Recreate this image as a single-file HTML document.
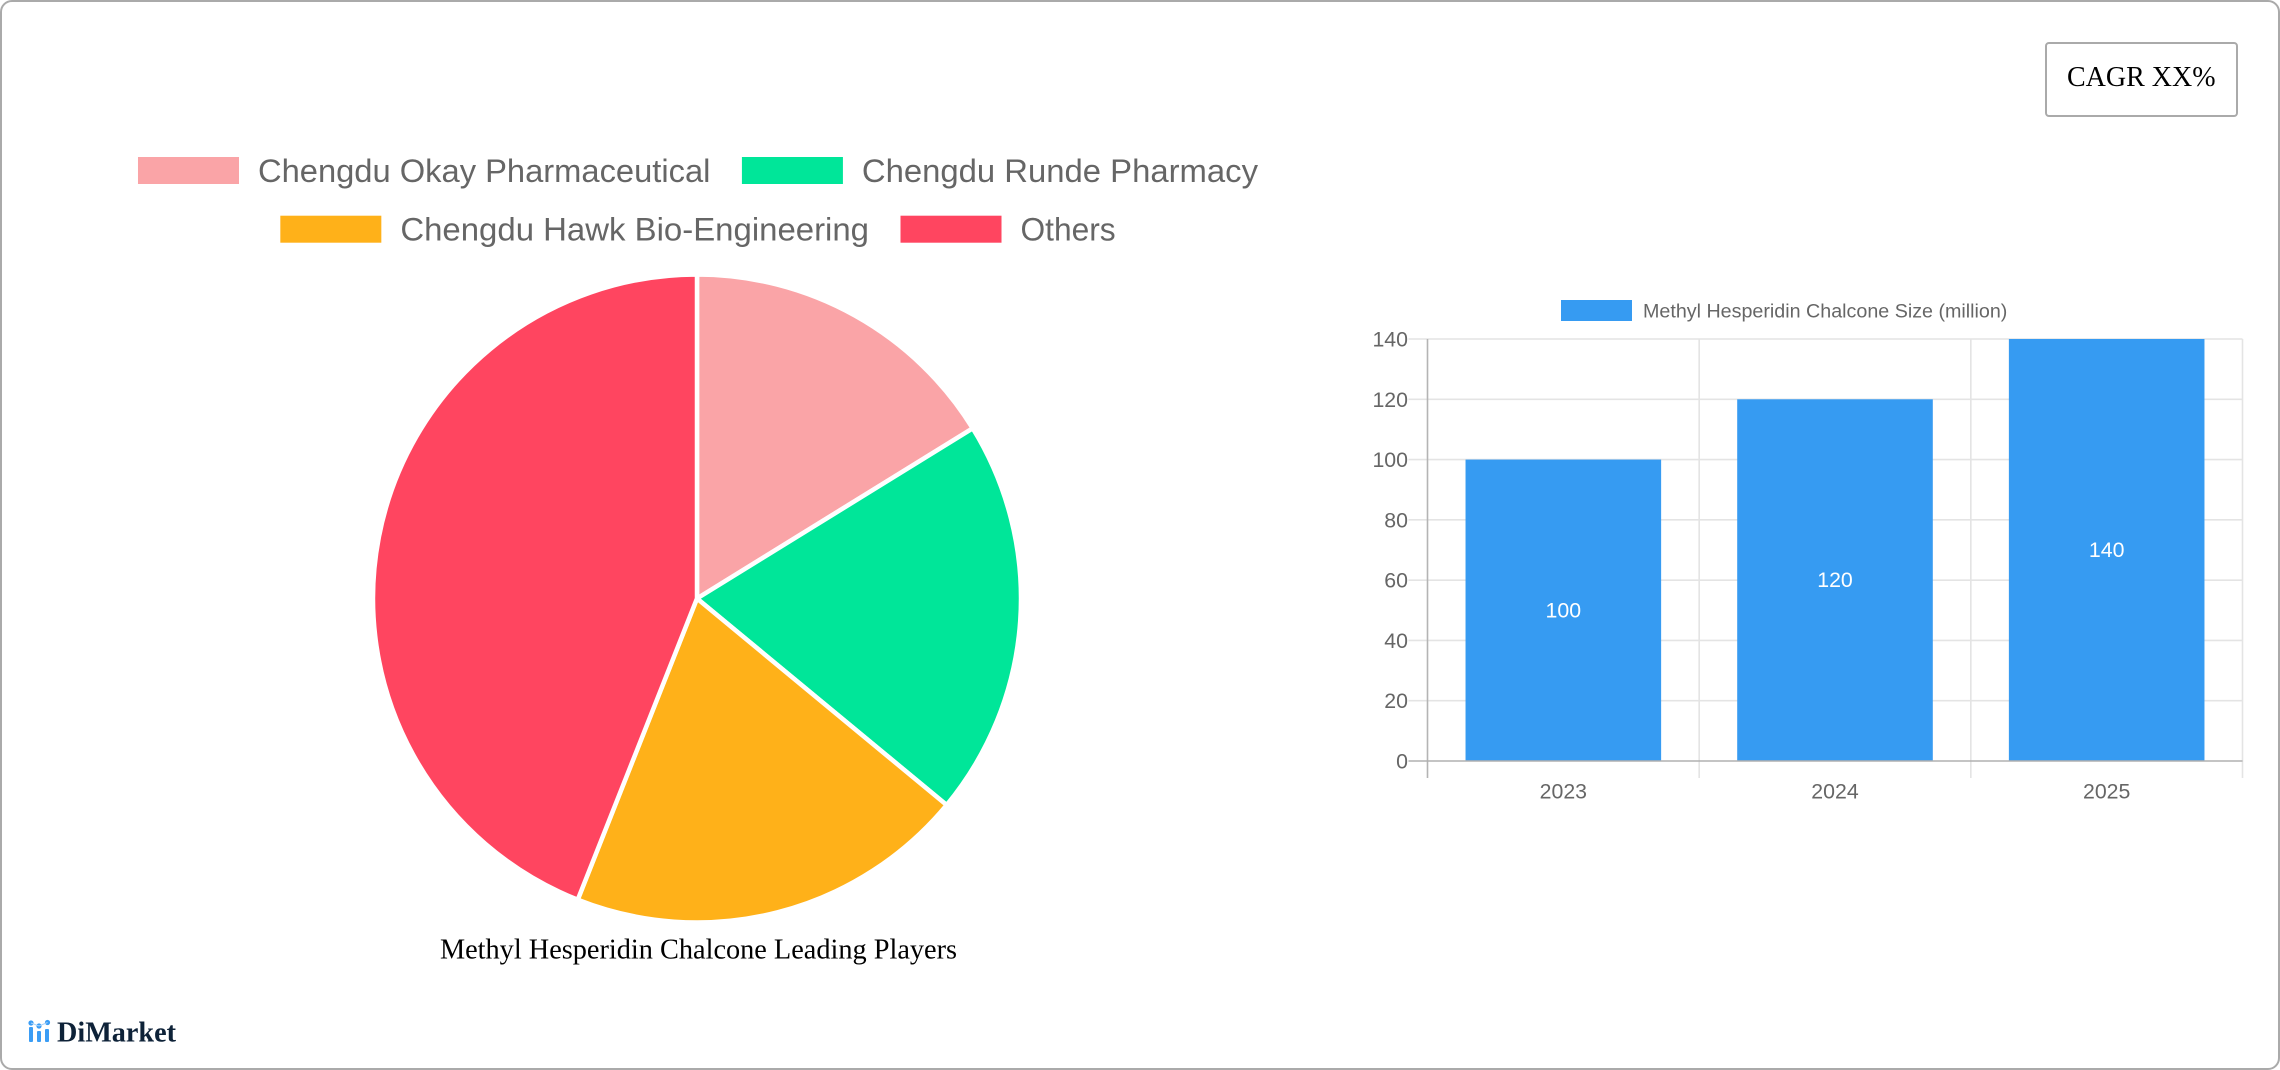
<!DOCTYPE html>
<html lang="en">
<head>
<meta charset="utf-8">
<title>Methyl Hesperidin Chalcone</title>
<style>
html,body{margin:0;padding:0;background:#fff;}
#stage{position:relative;width:2280px;height:1070px;overflow:hidden;background:#fff;}
#card{position:absolute;left:0;top:0;width:2276px;height:1066px;border:2px solid #aaa;border-radius:12px;background:#fff;}
#cagr{position:absolute;left:2044.5px;top:42px;width:189.5px;height:71px;border:2px solid #aaa;border-radius:4px;
 font:28px "Liberation Serif",serif;color:#000;text-align:center;line-height:67px;}
svg{position:absolute;left:0;top:0;}
</style>
</head>
<body>
<div id="stage">
<div id="card"></div>
<div id="cagr">CAGR XX%</div>
<svg id="chart" width="2280" height="1070" viewBox="0 0 2280 1070">
  <g id="pie-legend"></g>
  <g id="pie"></g>
  <text x="698.5" y="958.5" text-anchor="middle" font-family="'Liberation Serif',serif" font-size="28.3" fill="#000">Methyl Hesperidin Chalcone Leading Players</text>
  <g id="bar-legend"></g>
  <g id="grid"></g>
  <g id="bars"></g>
  <g id="axes"></g>
  <g id="logo">
    <g fill="#3b9df5">
      <rect x="29" y="1027" width="4" height="15" rx="1"/>
      <rect x="37" y="1031" width="4" height="11" rx="1"/>
      <rect x="45" y="1029" width="4" height="13" rx="1"/>
      <circle cx="31" cy="1023" r="2.6"/>
      <circle cx="39" cy="1026" r="2.6"/>
      <circle cx="47.5" cy="1022.5" r="2.6"/>
      <path d="M31 1023L39 1026L47.5 1022.5" fill="none" stroke="#a8d2f8" stroke-width="1"/>
    </g>
    <text x="57" y="1041.7" font-family="'Liberation Serif',serif" font-size="28.5" font-weight="700" fill="#0e2238" textLength="119" lengthAdjust="spacingAndGlyphs">DiMarket</text>
  </g>
</svg>
</div>
<script>
// Pie data
const playerNames = ["Chengdu Okay Pharmaceutical", "Chengdu Runde Pharmacy", "Chengdu Hawk Bio-Engineering", "Others"];
const playerShares = [16.2, 19.8, 20, 44];
const playerColors = ["#FAA4A7", "#00E699", "#FFB119", "#FF4560"];
// Bar data
const barYears = ["2023", "2024", "2025"];
const barValues = [100, 120, 140];
const yTicks = [0, 20, 40, 60, 80, 100, 120, 140];
const barSeriesName = "Methyl Hesperidin Chalcone Size (million)";

const NS = "http://www.w3.org/2000/svg";
function mk(tag, attrs, parent) {
  const el = document.createElementNS(NS, tag);
  for (const k in attrs) el.setAttribute(k, attrs[k]);
  parent.appendChild(el);
  return el;
}
const FONT = "'Liberation Sans',sans-serif";

/* ---------- Pie ---------- */
const pieG = document.getElementById("pie");
const cx = 697, cy = 598.5, R = 324;
const shareTotal = playerShares.reduce((a, b) => a + b, 0);
function pieAngle(v) { return v / shareTotal * Math.PI * 2 - Math.PI / 2; }
let running = 0;
playerShares.forEach((v, i) => {
  const a0 = pieAngle(running), a1 = pieAngle(running + v);
  running += v;
  const large = v / shareTotal > 0.5 ? 1 : 0;
  const d = "M" + cx + " " + cy +
    "L" + (cx + R * Math.cos(a0)) + " " + (cy + R * Math.sin(a0)) +
    "A" + R + " " + R + " 0 " + large + " 1 " + (cx + R * Math.cos(a1)) + " " + (cy + R * Math.sin(a1)) + "Z";
  const slice = mk("path", {d: d, fill: playerColors[i], stroke: "#fff", "stroke-width": 4.5, "stroke-linejoin": "miter"}, pieG);
  
  
});

/* ---------- Pie legend ---------- */
const legendG = document.getElementById("pie-legend");
const LEG_BOX = 101, LEG_GAP = 19, LEG_SEP = 31.5, LEG_MAX = 1300, LEG_CX = 698;
const LEG_SIZE = 32.7;
// Fitted per-label text widths: the reference uses hinted glyph advances.
const LEG_FIT = [1.0, 1.0045, 1.0075, 0.97];
const measure = mk("text", {"font-family": FONT, "font-size": LEG_SIZE, x: -9999, y: -9999}, legendG);
const widths = playerNames.map((n, i) => { measure.textContent = n; return measure.getComputedTextLength() * LEG_FIT[i]; });
legendG.removeChild(measure);
const rows = [[]];
let rowW = 0;
playerNames.forEach((n, i) => {
  const w = LEG_BOX + LEG_GAP + widths[i];
  if (rowW && rowW + LEG_SEP + w > LEG_MAX) { rows.push([]); rowW = 0; }
  rowW += (rowW ? LEG_SEP : 0) + w;
  rows[rows.length - 1].push(i);
});
rows.forEach((row, r) => {
  const total = row.reduce((s, i) => s + LEG_BOX + LEG_GAP + widths[i], 0) + LEG_SEP * (row.length - 1);
  let x = LEG_CX - total / 2;
  const top = 157 + r * 58.7;
  row.forEach(i => {
    const swatch = mk("rect", {x: x, y: top, width: LEG_BOX, height: 27, fill: playerColors[i]}, legendG);
    
    
    const label = mk("text", {x: x + LEG_BOX + LEG_GAP, y: top + 25, "font-family": FONT, "font-size": LEG_SIZE, fill: "#666", textLength: widths[i], lengthAdjust: "spacingAndGlyphs"}, legendG);
    label.textContent = playerNames[i];
    
    
    x += LEG_BOX + LEG_GAP + widths[i] + LEG_SEP;
  });
});

/* ---------- Bar chart ---------- */
const plotL = 1427.5, plotR = 2242.5, plotT = 339, plotB = 761, tickOut = 17;
const yMax = Math.max.apply(null, yTicks);
function yScale(v) { return plotB - v / yMax * (plotB - plotT); }
const catW = (plotR - plotL) / barYears.length;
function xEdge(i) { return plotL + i * catW; }
function xMid(i) { return plotL + (i + 0.5) * catW; }

const gridG = document.getElementById("grid");
const axesG = document.getElementById("axes");
const barsG = document.getElementById("bars");
yTicks.forEach(t => {
  if (t === 0) return;
  const line = mk("line", {x1: plotL - 19, x2: plotR, y1: yScale(t), y2: yScale(t), stroke: "#e4e4e4", "stroke-width": 1.6}, gridG);
  
  
});
barYears.forEach((y, i) => {
  const line = mk("line", {x1: xEdge(i + 1), x2: xEdge(i + 1), y1: plotT, y2: plotB + tickOut, stroke: "#e4e4e4", "stroke-width": 1.6}, gridG);
  
  
});
barValues.forEach((v, i) => {
  const w = catW * 0.72;
  const bar = mk("rect", {x: xMid(i) - w / 2, y: yScale(v), width: w, height: plotB - yScale(v), fill: "#369BF2"}, barsG);
  
  
  const val = mk("text", {x: xMid(i), y: (yScale(v) + plotB) / 2 + 7, "text-anchor": "middle", "font-family": FONT, "font-size": 21.3, fill: "#fff"}, barsG);
  val.textContent = String(v);
  
  
});
const yAxis = mk("line", {x1: plotL, x2: plotL, y1: plotT, y2: plotB + tickOut, stroke: "#b4b4b4", "stroke-width": 1.6}, axesG);


const xAxis = mk("line", {x1: plotL - 19, x2: plotR, y1: plotB, y2: plotB, stroke: "#b0b0b0", "stroke-width": 1.6}, axesG);


yTicks.forEach(t => {
  const lab = mk("text", {x: plotL - 19.5, y: yScale(t) + 7.5, "text-anchor": "end", "font-family": FONT, "font-size": 21.3, fill: "#666"}, axesG);
  lab.textContent = String(t);
  
  
});
barYears.forEach((y, i) => {
  const lab = mk("text", {x: xMid(i), y: 798.5, "text-anchor": "middle", "font-family": FONT, "font-size": 21.3, fill: "#666"}, axesG);
  lab.textContent = y;
  
  
});

/* ---------- Bar legend ---------- */
const barLegendG = document.getElementById("bar-legend");
const barSwatch = mk("rect", {x: 1561, y: 300, width: 71, height: 21, fill: "#369BF2"}, barLegendG);


const barLabel = mk("text", {x: 1643, y: 317.5, "font-family": FONT, "font-size": 19.7, fill: "#666"}, barLegendG);
barLabel.textContent = barSeriesName;


</script>
</body>
</html>
